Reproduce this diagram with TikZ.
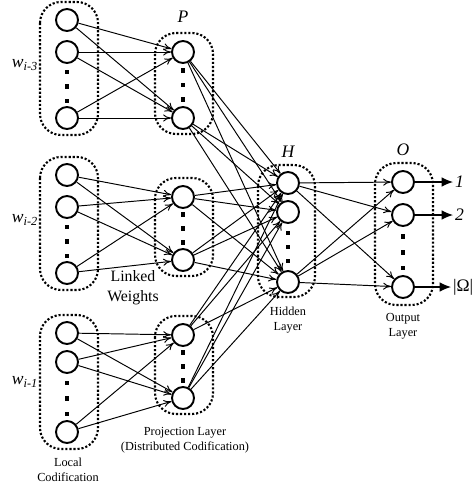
\documentclass[tikz,border=0pt]{standalone}
\usepackage{fontspec}
\setmainfont{Liberation Serif}
\usetikzlibrary{arrows.meta,calc}

\begin{document}
\begin{tikzpicture}[x=0.02cm, y=-0.02cm, font=\fontsize{7}{8.5}\selectfont,
  neuron/.style={circle, draw, line width=1.1pt, minimum size=0.44cm, inner sep=0pt},
  grp/.style={draw, line width=1.2pt, dash pattern=on 1.2pt off 1.1pt, rounded corners=0.42cm},
  conn/.style={-{To[length=4.5pt,width=4pt]}, line width=0.55pt},
  outarr/.style={-{Latex[length=6.5pt,width=5.5pt]}, line width=0.6pt},
  big/.style={font=\fontsize{10}{12}\selectfont\itshape}]
  \useasboundingbox (0,0) rectangle (474,491);
  % 入力層
  \foreach \g/\ya/\yb/\yc in {1/20/52/118, 2/175/207/273, 3/333/362/432} {
    \draw[grp] (40,\ya-18) rectangle (98,\yc+17);
    \node[neuron] (i\g a) at (67,\ya) {};
    \node[neuron] (i\g b) at (67,\yb) {};
    \node[neuron] (i\g c) at (67,\yc) {};
    \foreach \f in {0.3,0.52,0.74}
      \fill ($(67,\yb)!\f!(67,\yc)$) ++(-2,-2.2) rectangle ++(4,4.4);
  }
  % 射影層
  \foreach \g/\ya/\yb in {1/52/118, 2/197/260, 3/335/398} {
    \draw[grp] (155,\ya-19) rectangle (213,\yb+16);
    \node[neuron] (p\g a) at (183,\ya) {};
    \node[neuron] (p\g b) at (183,\yb) {};
    \foreach \f in {0.28,0.5,0.72}
      \fill ($(183,\ya)!\f!(183,\yb)$) ++(-2,-2.2) rectangle ++(4,4.4);
  }
  % 隠れ層
  \draw[grp] (258,165) rectangle (315,297);
  \node[neuron] (ha) at (288,183) {};
  \node[neuron] (hb) at (288,212) {};
  \node[neuron] (hc) at (288,282) {};
  \foreach \f in {0.3,0.5,0.7}
    \fill ($(hb)!\f!(hc)$) ++(-2,-2.2) rectangle ++(4,4.4);
  % 出力層
  \draw[grp] (375,163) rectangle (433,305);
  \node[neuron] (oa) at (403,182) {};
  \node[neuron] (ob) at (403,215) {};
  \node[neuron] (oc) at (403,287) {};
  \foreach \f in {0.3,0.52,0.74}
    \fill ($(ob)!\f!(oc)$) ++(-2,-2.2) rectangle ++(4,4.4);
  % 結合
  \foreach \g in {1,2,3} {
    \foreach \s in {a,b,c}
      \foreach \t in {a,b}
        \draw[conn] (i\g\s) -- (p\g\t);
    \foreach \s in {a,b}
      \foreach \t in {a,b,c}
        \draw[conn] (p\g\s) -- (h\t);
  }
  \foreach \s in {a,c}
    \foreach \t in {a,b,c}
      \draw[conn] (h\s) -- (o\t);
  % 出力
  \node[big, anchor=west, inner sep=1pt] (la) at (453,182) {1};
  \node[big, anchor=west, inner sep=1pt] (lb) at (453,215) {2};
  \node[font=\fontsize{10}{12}\selectfont, anchor=west, inner sep=1pt] (lc) at (451,287) {|Ω|};
  \draw[outarr] (oa) -- (la);
  \draw[outarr] (ob) -- (lb);
  \draw[outarr] (oc) -- (lc);
  % ラベル
  \node[big] (lp) at (183,17) {P};
  \node[big] (lh) at (288,152) {H};
  \node[big] (lo) at (403,150) {O};
  \node[font=\fontsize{10}{12}\selectfont\itshape] (w3) at (25,65) {w\textsubscript{i-3}};
  \node[font=\fontsize{10}{12}\selectfont\itshape] (w2) at (25,220) {w\textsubscript{i-2}};
  \node[font=\fontsize{10}{12}\selectfont\itshape] (w1) at (25,382) {w\textsubscript{i-1}};
  \node[align=center, font=\fontsize{9}{11.5}\selectfont] (lw) at (133,288) {Linked\\Weights};
  \node[align=center] (lpl) at (185,440) {Projection Layer\\(Distributed Codification)};
  \node[align=center] (llc) at (68,470) {Local\\Codification};
  \node[align=center] (lhl) at (288,320) {Hidden\\Layer};
  \node[align=center] (lol) at (403,326) {Output\\Layer};
\end{tikzpicture}
\end{document}
